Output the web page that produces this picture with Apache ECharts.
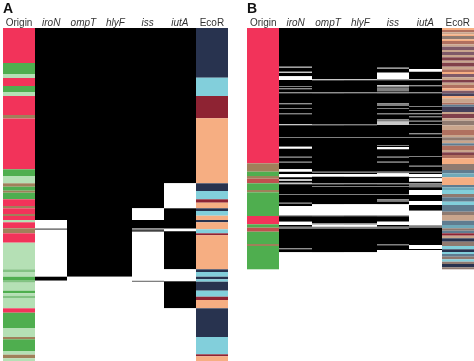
<!DOCTYPE html>
<html><head><meta charset="utf-8">
<style>html,body{margin:0;padding:0;background:#fff}#c{width:474px;height:361px}</style>
<script src="https://cdn.jsdelivr.net/npm/echarts@6/dist/echarts.min.js"></script>
</head><body><div id="c"></div>
<script>
const columns = ['Origin','iroN','ompT','hlyF','iss','iutA','EcoR'];
const panelLabels = ['A','B'];
const rowsA = 333, rowsB = 241.3;

// Each list is a run of [last row, class] going down the column.
const originA = [[35,'r'],[46,'g'],[50,'l'],[58,'r'],[64,'g'],[68,'l'],[87,'r'],[90.5,'o'],[141.3,'r'],[148,'g'],[155.3,'l'],[158.7,'o'],[162.7,'g'],[164.7,'o'],[171.3,'g'],[178,'r'],[180.3,'o'],[186,'r'],[188,'o'],[192,'r'],[194.3,'l'],[200.3,'r'],[205.3,'o'],[214.7,'r'],[241.3,'l'],[244,'m'],[248.7,'l'],[252.7,'g'],[254.7,'m'],[262.7,'l'],[265.3,'g'],[267.7,'l'],[270,'m'],[280.3,'l'],[284.7,'r'],[300,'g'],[309,'l'],[311.3,'o'],[323,'g'],[326.7,'l'],[330.3,'o'],[333,'l']];
const ironA = [[192,'k'],[200.3,'w'],[202,'a'],[248.7,'w'],[252.7,'k'],[333,'w']];
const omptA = [[248.7,'k'],[333,'w']];
const hlyfA = [[248.7,'k'],[333,'w']];
const issA = [[180.3,'k'],[192,'w'],[200.3,'k'],[202.3,'a'],[203.7,'k'],[252.7,'w'],[254,'a'],[333,'w']];
const iutaA = [[155.3,'k'],[180.3,'w'],[200.7,'k'],[203.3,'w'],[241.3,'k'],[253.3,'w'],[280.3,'k'],[333,'w']];
const ecorA = [[49.7,'n'],[68,'c'],[90.3,'d'],[155.3,'s'],[163,'n'],[171.3,'c'],[174.7,'d'],[180.3,'s'],[183,'n'],[187.7,'c'],[192,'s'],[194.3,'n'],[201.3,'s'],[205.3,'c'],[207.3,'d'],[241.3,'s'],[244,'n'],[248.7,'c'],[251.3,'n'],[253.7,'c'],[262.7,'n'],[268.7,'c'],[272,'d'],[280.3,'s'],[309,'n'],[326.3,'c'],[328.3,'d'],[333,'s']];

const originB = [[135.3,'r'],[143.7,'o'],[148,'g'],[150.7,'o'],[155.3,'f'],[162,'g'],[164.3,'o'],[188,'g'],[196.3,'r'],[199.7,'g'],[203.7,'f'],[216,'g'],[218,'o'],[241.3,'g']];
const ironB = [[38.7,'k'],[39.7,'h'],[43.7,'k'],[45,'h'],[48.3,'k'],[52,'w'],[58,'k'],[59,'a'],[60.3,'k'],[61.3,'a'],[64.3,'k'],[65.3,'a'],[75.3,'k'],[76.3,'a'],[80,'k'],[81,'a'],[85,'k'],[86.3,'a'],[96,'k'],[97.3,'h'],[109,'k'],[110,'a'],[118.7,'k'],[120.7,'w'],[128.7,'k'],[129.7,'a'],[133.7,'k'],[134.7,'a'],[141.3,'k'],[143.7,'w'],[146,'k'],[149.3,'w'],[151,'k'],[153,'h'],[154.7,'k'],[156.3,'h'],[166,'k'],[167,'a'],[174.7,'k'],[175.7,'a'],[178,'k'],[187.3,'w'],[188.3,'a'],[193.7,'k'],[197,'w'],[198.7,'k'],[200.7,'a'],[220.3,'k'],[221.3,'a'],[224.3,'k'],[241.3,'w']];
const omptB = [[51,'k'],[52.3,'h'],[64.3,'k'],[65.3,'a'],[96,'k'],[97.3,'a'],[109,'k'],[110,'a'],[143.7,'k'],[144.7,'a'],[146,'k'],[148.7,'w'],[155.3,'k'],[156.3,'a'],[158,'k'],[159,'a'],[166,'k'],[167,'a'],[176.3,'k'],[187.3,'w'],[188.3,'a'],[195.3,'k'],[196.7,'a'],[198.7,'w'],[200.7,'a'],[224.3,'k'],[241.3,'w']];
const hlyfB = [[51,'k'],[52.3,'h'],[64.3,'k'],[65.3,'a'],[96,'k'],[97.3,'a'],[109,'k'],[110,'a'],[143.7,'k'],[144.7,'a'],[146,'k'],[148.7,'w'],[155.3,'k'],[156.3,'a'],[158,'k'],[159,'a'],[166,'k'],[167,'a'],[176.3,'k'],[187.3,'w'],[188.3,'a'],[195.3,'k'],[196.7,'a'],[198.7,'w'],[200.7,'a'],[224.3,'k'],[241.3,'w']];
const issB = [[39.7,'k'],[40.7,'h'],[44.7,'k'],[51.3,'w'],[52.3,'a'],[57,'k'],[58.7,'h'],[59.7,'k'],[63.3,'a'],[64.3,'k'],[65.3,'a'],[75.3,'k'],[78,'a'],[80,'k'],[81,'a'],[85,'k'],[86.3,'a'],[91.3,'k'],[93.7,'a'],[97,'h'],[109,'k'],[110,'a'],[117,'k'],[118,'a'],[119,'k'],[121.3,'w'],[128.7,'k'],[129.7,'a'],[133.7,'k'],[134.7,'a'],[143.7,'k'],[144.7,'a'],[145.3,'k'],[148.7,'w'],[155.3,'k'],[156.3,'a'],[158,'k'],[159,'a'],[166,'k'],[167,'a'],[171.3,'k'],[173.7,'a'],[176.3,'k'],[187.3,'w'],[188.3,'a'],[193.7,'k'],[197,'w'],[198.7,'k'],[200.7,'a'],[216,'k'],[217.3,'a'],[222,'k'],[241.3,'w']];
const iutaB = [[41,'k'],[43.7,'w'],[51,'k'],[52.3,'h'],[57.3,'k'],[58.3,'a'],[64.3,'k'],[65.3,'a'],[78,'k'],[79,'a'],[82,'k'],[83,'a'],[85.3,'k'],[86.3,'a'],[88,'k'],[89.3,'a'],[92.7,'k'],[93.7,'a'],[96,'k'],[97,'a'],[105.3,'k'],[106.3,'a'],[109,'k'],[110,'a'],[128,'k'],[129,'a'],[137.7,'k'],[138.7,'a'],[143.7,'k'],[144.7,'a'],[146,'k'],[149.3,'w'],[150.3,'k'],[153.7,'w'],[155.3,'k'],[159.3,'a'],[162,'k'],[167,'w'],[173,'k'],[177,'w'],[182.7,'k'],[197.3,'w'],[199.7,'a'],[217,'k'],[221,'w'],[222,'k'],[241.3,'w']];
const ecorB = [[2,'s'],[4.3,'u'],[6.3,'t'],[8,'s'],[11.3,'z'],[13,'s'],[16.3,'u'],[18.7,'t'],[22,'v'],[24,'t'],[27,'v'],[29.3,'t'],[32.7,'x'],[34.7,'t'],[38.7,'x'],[41.3,'t'],[44,'u'],[46,'s'],[49.3,'v'],[52,'t'],[54.7,'x'],[57,'t'],[60.3,'u'],[62.7,'s'],[65.3,'v'],[68,'y'],[70.3,'s'],[74.7,'t'],[76.7,'u'],[78.7,'q'],[84,'y'],[86,'t'],[90.3,'x'],[92.7,'t'],[97.3,'z'],[102,'t'],[107,'u'],[109.3,'t'],[112.7,'z'],[115.3,'t'],[117.7,'q'],[122,'u'],[124.3,'t'],[127,'x'],[130.3,'u'],[136,'s'],[142,'z'],[145.3,'q'],[149.3,'e'],[157,'s'],[159.3,'q'],[162,'e'],[166,'c'],[169.3,'z'],[173.7,'q'],[177,'c'],[183.7,'q'],[187,'z'],[192.7,'t'],[197,'q'],[200.3,'e'],[202.7,'z'],[205.3,'q'],[207.7,'d'],[210.3,'t'],[213.7,'n'],[218,'z'],[221.3,'c'],[224,'n'],[226,'c'],[228.7,'q'],[231.3,'z'],[233.7,'c'],[236,'z'],[239.3,'n'],[241.3,'z']];

const colsA = [originA, ironA, omptA, hlyfA, issA, iutaA, ecorA];
const colsB = [originB, ironB, omptB, hlyfB, issB, iutaB, ecorB];

const palette = {r:'#f2335a',g:'#4fae4f',l:'#b5e0b5',m:'#83c283',o:'#a0805a',f:'#c0504f',
  k:'#000000',w:'#ffffff',a:'#808080',h:'#c8c8c8',
  n:'#28334f',c:'#82cfdb',d:'#8e2333',s:'#f6ae82',
  t:'#c9a58c',u:'#b0705f',v:'#7f5a68',x:'#80404a',y:'#45405a',z:'#8f7a70',q:'#5f7c90',e:'#6fa9b9'};

function table(cols){
  const out = [];
  cols.forEach((runs,i)=>{ let from=0; runs.forEach(([to,code])=>{ out.push([i,from,to,code]); from=to; }); });
  return out;
}
function series(cols, idx){
  const d = table(cols);
  return {type:'custom', xAxisIndex:idx, yAxisIndex:idx, silent:true,
    encode:{x:0,y:[1,2]}, data:d.map(r=>r.slice(0,3)),
    renderItem:(params,api)=>{
      const p0 = api.coord([api.value(0), api.value(1)]);
      const p1 = api.coord([api.value(0), api.value(2)]);
      const w = api.size([1,0])[0];
      const x0 = Math.round(p0[0]-w/2), x1 = Math.round(p0[0]+w/2);
      return {type:'rect', shape:{x:x0, y:p0[1], width:x1-x0, height:p1[1]-p0[1]},
        style:{fill:palette[d[params.dataIndex][3]]}};
    }};
}
function xAxis(idx){
  return {type:'category', gridIndex:idx, position:'top', data:columns,
    axisLine:{show:false}, axisTick:{show:false}, splitLine:{show:false},
    axisLabel:{interval:0, margin:0, fontFamily:'Liberation Sans', fontSize:10, color:'#333',
      formatter:(v)=>(v==='Origin'||v==='EcoR') ? '{p|'+v+'}' : '{g|'+v+'}',
      rich:{p:{fontFamily:'Liberation Sans',fontSize:10,color:'#333'},
            g:{fontFamily:'Liberation Sans',fontSize:10,color:'#333',fontStyle:'italic'}}}};
}
function yAxis(idx,max){
  return {type:'value', gridIndex:idx, inverse:true, min:0, max:max, show:false, splitLine:{show:false}};
}
const chart = echarts.init(document.getElementById('c'), null, {renderer:'canvas'});
chart.setOption({
  animation:false, backgroundColor:'#fff',
  title:[{text:panelLabels[0], left:3, top:2, padding:0, textStyle:{fontFamily:'Liberation Sans',fontSize:14,fontWeight:'bold',color:'#111'}},
         {text:panelLabels[1], left:247, top:2, padding:0, textStyle:{fontFamily:'Liberation Sans',fontSize:14,fontWeight:'bold',color:'#111'}}],
  grid:[{left:3,top:28,width:225,height:333},{left:247,top:28,width:227,height:241.3}],
  xAxis:[xAxis(0),xAxis(1)],
  yAxis:[yAxis(0,rowsA),yAxis(1,rowsB)],
  series:[series(colsA,0),series(colsB,1)]
});
</script></body></html>
